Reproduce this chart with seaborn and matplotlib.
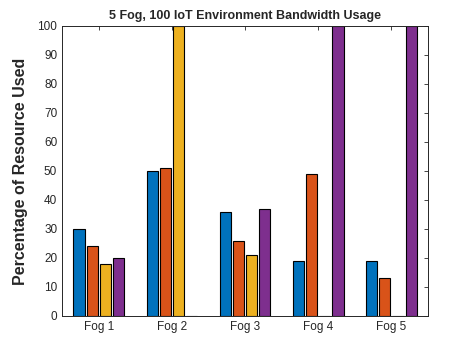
import pandas as pd
import numpy as np
import matplotlib
matplotlib.use("Agg")
import matplotlib.pyplot as plt
import seaborn as sns

# Данные
fogs = ["Fog 1", "Fog 2", "Fog 3", "Fog 4", "Fog 5"]
series = ["S1", "S2", "S3", "S4"]
s1 = [30, 50, 36, 19, 19]
s2 = [24, 51, 26, 49, 13]
s3 = [18, 100, 21, 0, 0]
s4 = [20, 0, 37, 100, 100]
colors = ["#0072BD", "#D95319", "#EDB120", "#7E2F8E"]

df = pd.DataFrame({
    "Fog": fogs * 4,
    "Series": np.repeat(series, len(fogs)),
    "Value": s1 + s2 + s3 + s4,
})

sns.set_style("white")
plt.rcParams["font.family"] = ["Arial", "Liberation Sans", "DejaVu Sans"]

fig = plt.figure(figsize=(4.74, 3.55), dpi=100)
ax = fig.add_axes([0.131, 0.110, 0.772, 0.817])

sns.barplot(
    data=df, x="Fog", y="Value", hue="Series", order=fogs, hue_order=series,
    palette=colors, width=0.72, gap=0.15, edgecolor="black", linewidth=0.8,
    legend=False, ax=ax, saturation=1,
)

ax.set_xlim(-0.5, 4.5)
ax.set_ylim(0, 100)
ax.set_yticks(range(0, 101, 10))
ax.set_xlabel("")
ax.set_ylabel("Percentage of Resource Used", fontsize=11.5, fontweight="bold", labelpad=7)
ax.set_title("5 Fog, 100 IoT Environment Bandwidth Usage", fontsize=9, fontweight="bold", pad=5)

gray = "#262626"
for sp in ax.spines.values():
    sp.set_visible(True)
    sp.set_color(gray)
    sp.set_linewidth(0.7)
ax.tick_params(direction="in", top=True, right=True, length=3, width=0.6,
               colors=gray, labelsize=8.5, labelcolor=gray)

plt.savefig("out.png", dpi=100)
plt.close()
